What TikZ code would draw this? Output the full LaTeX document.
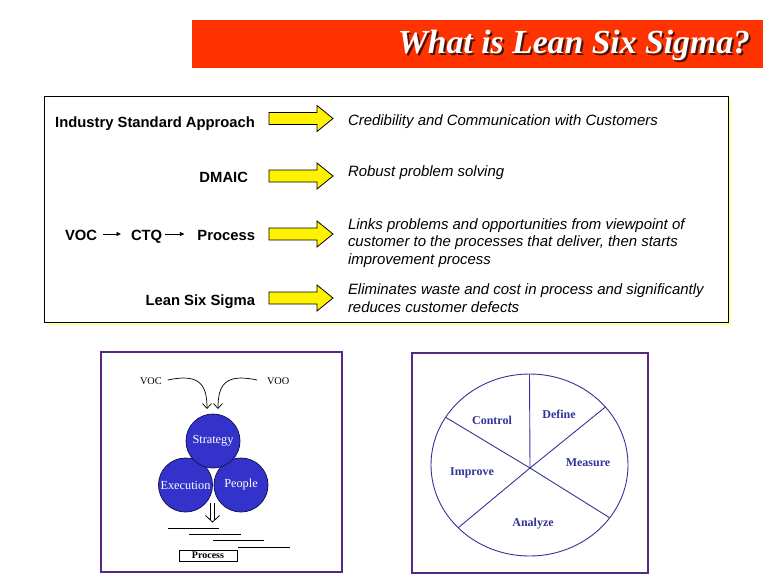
\documentclass[tikz,border=0pt]{standalone}
\usepackage{fontspec}
\setmainfont{Liberation Serif}
\setsansfont{Liberation Sans}
\usetikzlibrary{arrows.meta}
\definecolor{titlered}{RGB}{255,51,0}
\definecolor{shadowyellow}{RGB}{255,255,160}
\definecolor{boxpurple}{RGB}{88,40,130}
\definecolor{pieblue}{RGB}{51,51,153}
\definecolor{ballblue}{RGB}{51,51,204}
\definecolor{balledge}{RGB}{20,20,90}
\definecolor{titleshadow}{RGB}{70,20,10}
\begin{document}
\begin{tikzpicture}[x=1pt,y=-1pt,
  every node/.style={inner sep=0pt,outer sep=0pt},
  titletxt/.style={font=\bfseries\itshape\fontsize{33.7}{36}\selectfont,anchor=east},
  lefttxt/.style={font=\sffamily\bfseries\fontsize{14.8}{17.5}\selectfont,anchor=base east},
  righttxt/.style={font=\sffamily\itshape\fontsize{14.95}{17.6}\selectfont,anchor=west,align=left},
  yarrow/.style={draw=black,fill=yellow,line width=0.8pt},
  smallarrow/.style={line width=0.8pt,-{Triangle[length=4.5pt,width=4pt]}},
  smallserif/.style={font=\fontsize{10.3}{12}\selectfont},
  curvearrow/.style={line width=0.7pt,-{Straight Barb[length=5pt,width=9pt]}},
  ball/.style={circle,draw=balledge,fill=ballblue,line width=0.8pt,minimum size=54pt,text=white,font=\fontsize{12.3}{14}\selectfont},
  pielabel/.style={text=pieblue,font=\bfseries\fontsize{12}{14}\selectfont},
  pieline/.style={draw=pieblue,line width=0.9pt},
  purplebox/.style={draw=boxpurple,line width=1.8pt},
  bigarrow/.pic={\path[yarrow] (-32,-6) -- (16,-6) -- (16,-13) -- (32,0) -- (16,13) -- (16,6) -- (-32,6) -- cycle;}
]
\useasboundingbox (0,0) rectangle (768,576);
\fill[white] (0,0) rectangle (768,576);

% title
\fill[titlered] (192,20) rectangle (763,68);
\node[titletxt,text=titleshadow] (titleshade) at (752,47) {What is Lean Six Sigma?};
\node[titletxt,text=white] (title) at (750,45) {What is Lean Six Sigma?};

% top box
\fill[shadowyellow] (47,99) rectangle (731,325);
\draw[black,fill=white,line width=0.8pt] (44,96) rectangle (728,322);

\foreach \c in {118.5,176,234,298} { \pic at (301,\c) {bigarrow}; }

\node[lefttxt] (isa) at (255,127.3) {Industry Standard Approach};
\node[lefttxt] (dmaic) at (248,182.3) {DMAIC};
\node[lefttxt] (proc) at (255,240.3) {Process};
\node[lefttxt,anchor=base west] (voc) at (65,240.3) {VOC};
\node[lefttxt,anchor=base west] (ctq) at (131,240.3) {CTQ};
\node[lefttxt] (lss) at (255,305.3) {Lean Six Sigma};
\coordinate (a1s) at (103,234);
\coordinate (a2s) at (165,234);
\draw[smallarrow] (a1s) -- ([xshift=-10pt]a1s -| ctq.west);
\draw[smallarrow] (a2s) -- ([xshift=-13pt]a2s -| proc.west);

\node[righttxt] (r1) at (348,122) {Credibility and Communication with Customers};
\node[righttxt] (r2) at (348,173) {Robust problem solving};
\node[righttxt] (r3) at (348,243) {Links problems and opportunities from viewpoint of\\customer to the processes that deliver, then starts\\improvement process};
\node[righttxt] (r4) at (348,298) {Eliminates waste and cost in process and significantly\\reduces customer defects};

% bottom left panel
\draw[purplebox] (101,352) rectangle (342,572);
\node[smallserif,anchor=west] (voctxt) at (140,381) {VOC};
\node[smallserif,anchor=west] (vootxt) at (267,381) {VOO};
\coordinate (vocend) at (207,409);
\coordinate (vooend) at (218,409);
\draw[curvearrow] ([xshift=6pt,yshift=1pt]voctxt.east) .. controls (200,373) and (207,385) .. (vocend);
\draw[curvearrow] ([xshift=-10pt,yshift=1pt]vootxt.west) .. controls (225,373) and (218,385) .. (vooend);

\node[ball] (exe) at (185.5,485) {Execution};
\node[ball] (ppl) at (241,485) {People};
\node[ball] (str) at (213,441) {Strategy};

% double arrow down
\coordinate (dtip) at (212.5,522);
\draw[line width=0.8pt] (210.5,503) -- (210.5,520);
\draw[line width=0.8pt] (214.5,503) -- (214.5,520);
\draw[line width=0.8pt] (205.5,515.5) -- (dtip) -- (219.5,515.5);

\draw[line width=0.8pt] (168,528) -- (219,528);
\draw[line width=0.8pt] (189,534) -- (241,534);
\draw[line width=0.8pt] (213,540) -- (264,540);
\draw[line width=0.8pt] (238,547) -- (290,547);
\node[draw,line width=0.8pt,minimum width=58pt,minimum height=11pt,font=\bfseries\fontsize{10}{12}\selectfont] (procbox) at (208,555.5) {Process};

% bottom right panel
\draw[purplebox] (412,353) rectangle (648,573);
\draw[pieline] (529.5,465) ellipse [x radius=98.5,y radius=91];
\coordinate (hub) at (530,468);
\coordinate (ptop) at (529.5,374);
\coordinate (pur) at (605.4,407.0);
\coordinate (plr) at (609.7,517.8);
\coordinate (pll) at (458.2,527.8);
\coordinate (pul) at (445.6,417.3);
\foreach \p in {ptop,pur,plr,pll,pul} { \draw[pieline] (hub) -- (\p); }
\node[pielabel] (define) at (559,414) {Define};
\node[pielabel] (control) at (492,420) {Control};
\node[pielabel] (measure) at (588,463) {Measure};
\node[pielabel] (improve) at (472,473) {Improve};
\node[pielabel] (analyze) at (533,524) {Analyze};
\end{tikzpicture}
\end{document}
